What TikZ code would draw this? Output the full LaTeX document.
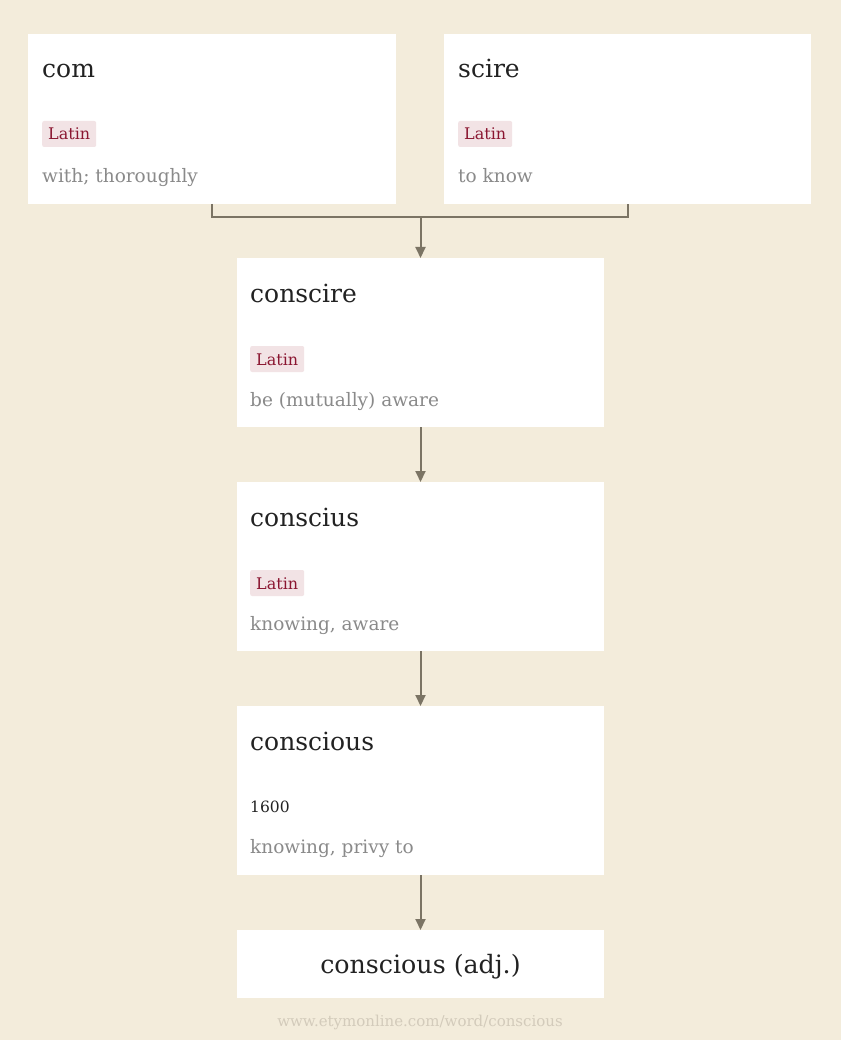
\documentclass[tikz,border=0pt]{standalone}
\usepackage{fontspec}
\setmainfont{DejaVu Serif}
\usetikzlibrary{arrows.meta,positioning}
\definecolor{paper}{HTML}{F3ECDB}
\definecolor{linkcol}{HTML}{7B7464}
\definecolor{tagfill}{HTML}{F2E3E5}
\definecolor{tagtext}{HTML}{8A1530}
\definecolor{glosscol}{HTML}{8A8A8A}
\definecolor{inkcol}{HTML}{222222}
\definecolor{footcol}{HTML}{D3CBBB}
\tikzset{x=1pt, y=-1pt, % one unit is one pixel, y runs down
        wordbox/.style={ % white card for each word
            fill=white,
            inner sep=0pt, outer sep=0pt,
            minimum width=367pt,
            minimum height=170pt,
            anchor=north west},
        headword/.style={ % big word on the card
            anchor=base west, inner sep=0pt,
            text=inkcol,
            font=\fontsize{25}{29}\selectfont},
        langtag/.style={ % small pink language label
            anchor=base west,
            fill=tagfill, text=tagtext,
            rounded corners=2pt,
            inner xsep=6pt, inner ysep=0pt,
            text height=19pt, text depth=7pt,
            font=\fontsize{16}{19}\selectfont},
        gloss/.style={ % grey meaning
            anchor=base west, inner sep=0pt,
            text=glosscol,
            font=\fontsize{18.5}{22}\selectfont},
        link/.style={ % connectors between cards
            draw=linkcol,
            line width=2pt},
        every edge/.style={
            link,
            -{Triangle[length=11pt,width=10pt]}}
        }
\begin{document}
\begin{tikzpicture}
    \useasboundingbox (0,0) rectangle (840,1040);
    \fill[paper] (-5,-5) rectangle (845,1045);

    \node[wordbox, minimum width=368pt] (com) at (28,34) {};
    \node[headword] (comW) at ([xshift=14pt,yshift=-44pt]com.north west) {com};
    \node[langtag] (comL) at ([xshift=14pt,yshift=-106pt]com.north west) {Latin};
    \node[gloss] (comG) at ([xshift=14pt,yshift=-149pt]com.north west) {with; thoroughly};

    \node[wordbox] (scire) at (444,34) {};
    \node[headword] (scireW) at ([xshift=14pt,yshift=-44pt]scire.north west) {scire};
    \node[langtag] (scireL) at ([xshift=14pt,yshift=-106pt]scire.north west) {Latin};
    \node[gloss] (scireG) at ([xshift=14pt,yshift=-149pt]scire.north west) {to know};

    \node[wordbox, minimum height=169pt] (conscire) at (237,258) {};
    \node[headword] (conscireW) at ([xshift=13pt,yshift=-44pt]conscire.north west) {conscire};
    \node[langtag] (conscireL) at ([xshift=13pt,yshift=-107pt]conscire.north west) {Latin};
    \node[gloss] (conscireG) at ([xshift=13pt,yshift=-148pt]conscire.north west) {be (mutually) aware};

    \node[wordbox, minimum height=169pt] (conscius) at (237,482) {};
    \node[headword] (consciusW) at ([xshift=13pt,yshift=-44pt]conscius.north west) {conscius};
    \node[langtag] (consciusL) at ([xshift=13pt,yshift=-107pt]conscius.north west) {Latin};
    \node[gloss] (consciusG) at ([xshift=13pt,yshift=-148pt]conscius.north west) {knowing, aware};

    \node[wordbox, minimum height=169pt] (conscious) at (237,706) {};
    \node[headword] (consciousW) at ([xshift=13pt,yshift=-44pt]conscious.north west) {conscious};
    \node[anchor=base west, inner sep=0pt, text=inkcol, font=\fontsize{15.5}{18}\selectfont]
        (consciousD) at ([xshift=13pt,yshift=-106pt]conscious.north west) {1600};
    \node[gloss] (consciousG) at ([xshift=13pt,yshift=-147pt]conscious.north west) {knowing, privy to};

    \node[wordbox, minimum height=68pt] (adj) at (237,930) {};
    \node[anchor=base, inner sep=0pt, text=inkcol, font=\fontsize{25.3}{29}\selectfont]
        (adjW) at ([yshift=-43pt]adj.north) {conscious (adj.)};

    \node[text=footcol, font=\fontsize{15}{18}\selectfont] (foot) at (420,1022) {www.etymonline.com/word/conscious};

    % the two roots join before conscire
    \coordinate (join) at (420.5,217);
    \draw[link] (com.south) |- (join) -| (scire.south);
    \draw (join) edge (conscire.north);

    \draw (conscire) edge (conscius);
    \draw (conscius) edge (conscious);
    \draw (conscious) edge (adj);
\end{tikzpicture}
\end{document}
